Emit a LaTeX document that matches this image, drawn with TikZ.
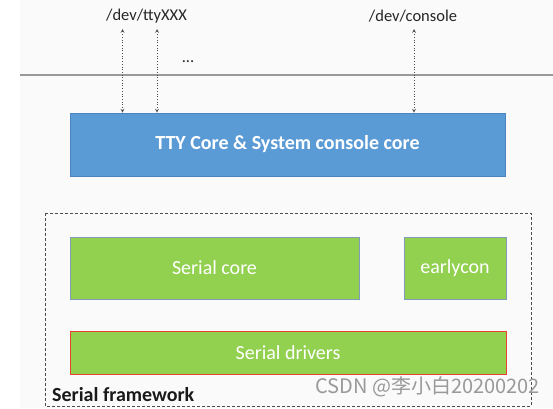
\documentclass[tikz,border=0pt]{standalone}
\usepackage{fontspec}
\setmainfont{Carlito}
\newfontfamily\cjk{Noto Sans CJK SC}
\usepackage{tikz}
\usetikzlibrary{positioning}

\definecolor{ttyblue}{HTML}{5B9BD5}
\definecolor{ttyedge}{HTML}{4A85BD}
\definecolor{sergreen}{HTML}{92D050}
\definecolor{seredge}{HTML}{7F9DB9}
\definecolor{drvedge}{HTML}{E8432C}

\tikzset{
	block/.style={draw, line width=0.8pt, minimum height=62pt, inner sep=0pt,
		text=white, font=\fontsize{20}{24}\selectfont},
	devlabel/.style={text=black!85, font=\fontsize{16.5}{19}\selectfont},
	devlink/.style={<->, >=stealth, dotted, line width=0.7pt, black!70}
}

\begin{document}
\begin{tikzpicture}[x=1pt,y=-1pt]
	\useasboundingbox (0,0) rectangle (553,408);
	\fill[black!2] (20,0) rectangle (553,408);
	\draw[black!40, line width=1.2pt] (20,75) -- (553,75);
	% user space
	\node (ttyx) [devlabel] at (146.5,16) {/dev/ttyXXX};
	\node (cons) [devlabel] at (413,16) {/dev/console};
	\node (dots) [devlabel, anchor=base] at (188,62) {...};
	% kernel blocks
	\node (tty) [block, fill=ttyblue, draw=ttyedge, minimum width=435pt, minimum height=63pt,
		font=\bfseries\fontsize{20}{24}\selectfont] at (287.5,144.5) {TTY Core \& System console core};
	\node (core) [block, fill=sergreen, draw=seredge, minimum width=289pt] at (214.5,268) {Serial core};
	\node (early) [block, fill=sergreen, draw=seredge, minimum width=102pt] at (455,268) {earlycon};
	\node (drv) [block, fill=sergreen, draw=drvedge, minimum width=436pt, minimum height=43pt]
		at (288,352.5) {Serial drivers};
	\draw[black!70, dashed, dash pattern=on 3pt off 2pt, line width=0.8pt] (45,213) rectangle (531,406);
	\node (frame) [anchor=base west, inner sep=0pt, font=\bfseries\fontsize{20}{24}\selectfont, text=black!90]
		at (52,401) {Serial framework};
	% links
	\coordinate (a1) at (122.5,29);
	\coordinate (a2) at (157,29);
	\coordinate (a3) at (414,29);
	\draw[devlink] (a1) -- (a1 |- tty.north);
	\draw[devlink] (a2) -- (a2 |- tty.north);
	\draw[devlink] (a3) -- (a3 |- tty.north);
	\node (mark) [text=black!40, font=\cjk\fontsize{20}{22}\selectfont, anchor=east, inner sep=0pt] at (540,387)
		{CSDN @李小白20200202};
\end{tikzpicture}
\end{document}
